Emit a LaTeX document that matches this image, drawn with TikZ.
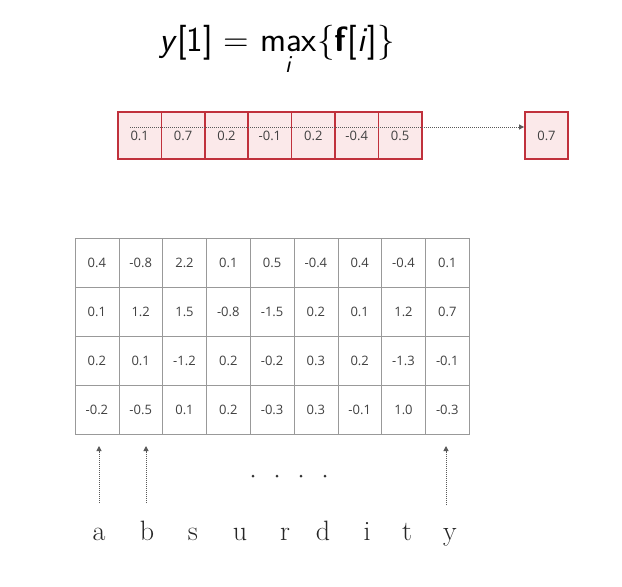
\documentclass[tikz,border=0pt]{standalone}
\usepackage{amsmath}
\usepackage{fontspec}
\newfontfamily\cellfont{Open Sans}
\usetikzlibrary{arrows.meta}
\definecolor{boxfill}{HTML}{FBE9EA}
\definecolor{boxdraw}{HTML}{C0313C}
\tikzset{
  cell/.style={draw=gray!80,minimum width=43.8pt,minimum height=49pt,inner sep=0pt,font=\cellfont\fontsize{13}{14}\selectfont,text=black!75},
  redcell/.style={draw=boxdraw,line width=1.5pt,fill=boxfill,minimum width=43.4pt,minimum height=47pt,inner sep=0pt,font=\cellfont\fontsize{13}{14}\selectfont,text=black!75},
  dotarrow/.style={densely dotted,line width=1pt,draw=black!65,-{Triangle[length=5pt,width=5pt]}},
  letter/.style={font=\fontsize{28}{30}\selectfont,text=black!85,inner sep=0pt}
}
\begin{document}
\begin{tikzpicture}[x=1pt,y=-1pt]
\useasboundingbox (0,0) rectangle (622,587);
\node[font=\fontsize{35}{37}\selectfont] (eq) at (277,50) {\sffamily\textit{y}[1] = $\underset{\textsf{\textit{i}}}{\textsf{max}}$\{\textbf{f}[\textit{i}]\}};
\foreach \v [count=\k] in {0.1,0.7,0.2,-0.1,0.2,-0.4,0.5}{
  \node[redcell] (r\k) at ({118+21.7+43.4*(\k-1)},135.5) {\raisebox{-2pt}{\v}};
}
\node[redcell] (out) at (546.5,135.5) {0.7};
\coordinate (ds) at (130,127);
\draw[dotarrow] (ds) -- (out.west |- ds);
\foreach \row [count=\r] in {{0.4,-0.8,2.2,0.1,0.5,-0.4,0.4,-0.4,0.1},{0.1,1.2,1.5,-0.8,-1.5,0.2,0.1,1.2,0.7},{0.2,0.1,-1.2,0.2,-0.2,0.3,0.2,-1.3,-0.1},{-0.2,-0.5,0.1,0.2,-0.3,0.3,-0.1,1.0,-0.3}}{
  \foreach \v [count=\c] in \row {
    \node[cell] (g\r-\c) at ({75+21.9+43.8*(\c-1)},{238+24.5+49*(\r-1)}) {\v};
  }
}
\foreach \ch/\x [count=\k] in {a/99,b/147,s/193,u/240,r/285,d/323,i/367,t/407,y/450}{
  \node[letter,anchor=base] (l\k) at (\x,540) {\ch};
}
\coordinate (la) at (99,503);
\coordinate (lb) at (146,503);
\coordinate (ly) at (446,505);
\draw[dotarrow] (la) -- (99,446);
\draw[dotarrow] (lb) -- (146,446);
\draw[dotarrow] (ly) -- (446,446);
\foreach \x [count=\k] in {253,277,301,325}{
  \fill[black!80] (\x,476) circle (1.5pt) node (dot\k) {};
}
\end{tikzpicture}
\end{document}
